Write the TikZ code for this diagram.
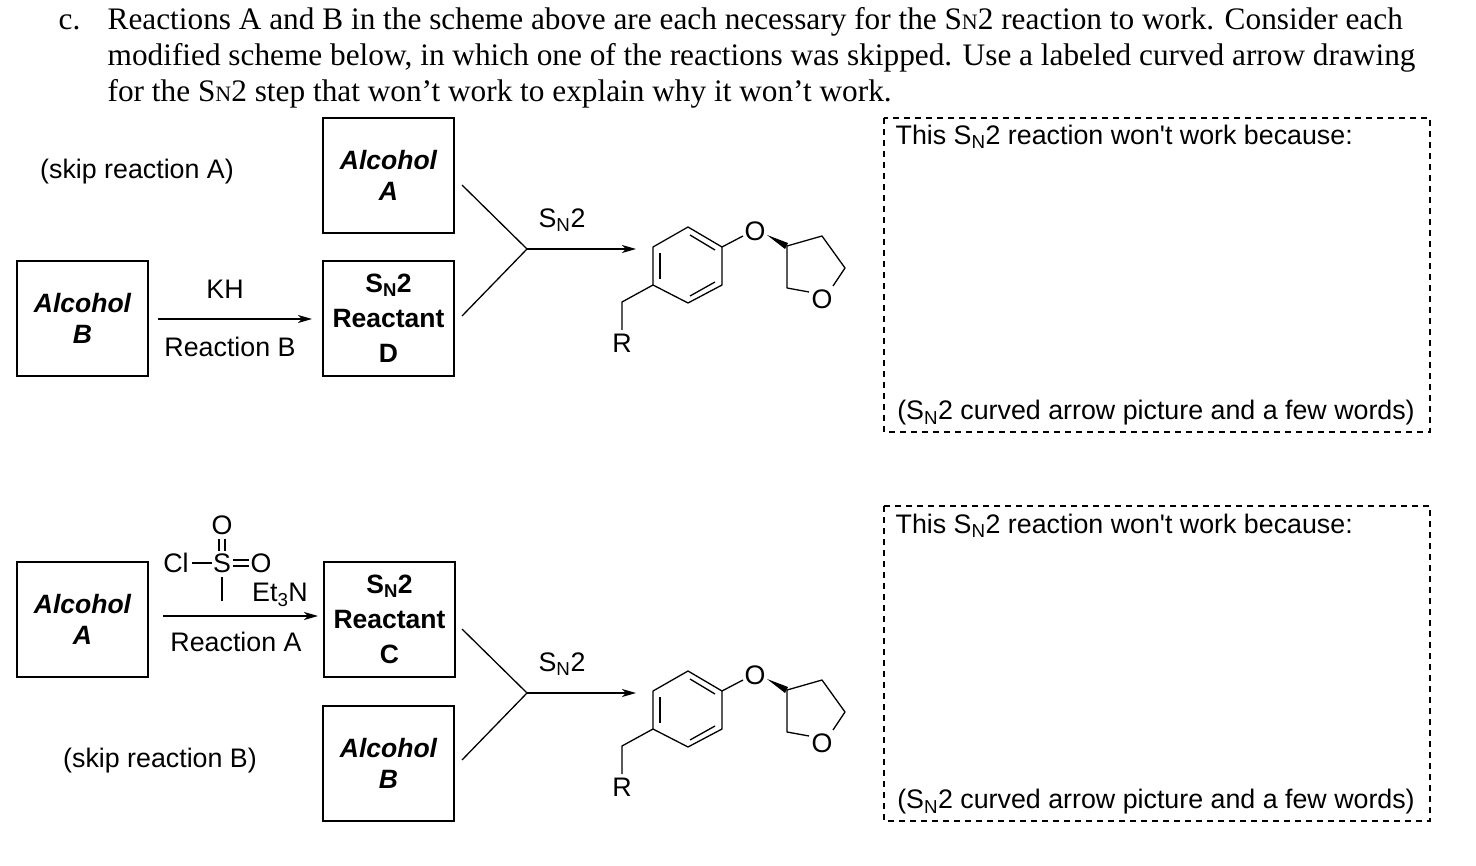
\documentclass[tikz,border=0pt]{standalone}
\usepackage{fontspec}
\usetikzlibrary{arrows.meta}
\setmainfont{Liberation Serif}
\setsansfont{Liberation Sans}
\newfontfamily\arial{Liberation Sans}
\begin{document}
\begin{tikzpicture}[x=1pt,y=-1pt,line width=1.3pt,
  lab/.style={font=\arial\fontsize{26.8}{30}\selectfont,inner sep=0pt,align=center},
  bx/.style={draw,line width=1.3pt,font=\arial\bfseries\itshape\fontsize{26.5}{31}\selectfont,align=center,inner sep=0pt},
  sbx/.style={draw,line width=1.3pt,font=\arial\bfseries\fontsize{26.5}{35}\selectfont,align=center,inner sep=0pt},
  hd/.style={font=\fontsize{31.3}{36}\selectfont,anchor=base west,inner sep=0pt},
  dbox/.style={draw,dashed,line width=1.2pt,dash pattern=on 6pt off 5pt},
  arr/.style={-{Stealth[length=14pt,width=8pt,inset=4pt]},line width=1.3pt},
  bond/.style={line width=1.3pt}]
\useasboundingbox (0,0) rectangle (1476,866);
\newcommand{\snh}{S{\fontsize{22}{22}\selectfont N}2}
\newcommand{\sns}{S\textsubscript{N}2}
% header
\node[hd] (c) at (58,30) {c.};
\node[hd] (h1) at (107,30) {Reactions A and B in the scheme above are each necessary for the \snh{} reaction to work. Consider each};
\node[hd] (h2) at (107,66) {modified scheme below, in which one of the reactions was skipped. Use a labeled curved arrow drawing};
\node[hd] (h3) at (107,102) {for the \snh{} step that won’t work to explain why it won’t work.};

\newcommand{\molecule}[1]{%
\begin{scope}[yshift=#1]
\coordinate (r1) at (688,227); \coordinate (r2) at (722,247); \coordinate (r3) at (722,285);
\coordinate (r4) at (688,303); \coordinate (r5) at (653,285); \coordinate (r6) at (653,247);
\draw[bond,line join=round] (r1)--(r2)--(r3)--(r4)--(r5)--(r6)--cycle;
\draw[bond] (660,253)--(660,279);
\draw[bond] (690,235)--(715,250);
\draw[bond] (715,282)--(690,296);
\node[lab,inner sep=1pt] (o1) at (755,231) {O};
\draw[bond] (r2)--(743,236);
\fill (767,235) -- (788,243) -- (785,249) -- cycle;
\draw[bond,line join=round] (787,246)--(822,236)--(845,268)--(833,286);
\node[lab,inner sep=1pt] (o2) at (822,299) {O};
\draw[bond,line join=round] (809,292)--(787,288)--(787,246);
\draw[bond] (r5)--(622,302)--(622,330);
\node[lab] (R) at (622,343) {R};
\end{scope}}

% top scheme
\node[lab] (skA) at (137,172) {(skip reaction A)};
\node[bx,minimum width=131,minimum height=115] (aA) at (388.5,175.5) {Alcohol\\A};
\node[sbx,minimum width=131,minimum height=115] (sD) at (388.5,318.5) {\sns\\Reactant\\D};
\node[bx,minimum width=131,minimum height=115] (aB) at (82.5,318.5) {Alcohol\\B};
\draw[arr] (158,319)--(312,319);
\node[lab] (kh) at (225,289) {KH};
\node[lab] (rB) at (230,347) {Reaction B};
\coordinate (y1) at (527,249);
\draw[bond] (462,185)--(y1)--(462,316);
\draw[arr] (y1)--(636,249);
\node[lab] (sn1) at (562,220) {\sns};
\molecule{0}
\draw[dbox] (884,118) rectangle (1430,432);
\node[lab,anchor=west] (t1) at (895,137) {This \sns{} reaction won't work because:};
\node[lab] (t2) at (1156,413) {(\sns{} curved arrow picture and a few words)};

% bottom scheme
\node[bx,minimum width=131,minimum height=115] (aA2) at (82.5,619.5) {Alcohol\\A};
\node[sbx,minimum width=131,minimum height=115] (sC) at (389.5,619.5) {\sns\\Reactant\\C};
\node[bx,minimum width=131,minimum height=115] (aB2) at (388.5,763.5) {Alcohol\\B};
\draw[arr] (163,616)--(318,616);
\node[lab] (rA) at (236,642) {Reaction A};
\node[lab] (et) at (280,595) {Et\textsubscript{3}N};
\node[lab] (cl) at (176,563) {Cl};
\node[lab] (s) at (222,563) {S};
\node[lab] (o3) at (261,563) {O};
\node[lab] (o4) at (222,525) {O};
\draw[bond] (192,563)--(212,563);
\draw[bond] (233,560)--(249,560);
\draw[bond] (233,566)--(249,566);
\draw[bond] (219,539)--(219,551); \draw[bond] (225,539)--(225,551);
\draw[bond] (222,577)--(222,601);
\node[lab] (skB) at (160,761) {(skip reaction B)};
\coordinate (y2) at (527,693);
\draw[bond] (462,629)--(y2)--(462,760);
\draw[arr] (y2)--(636,693);
\node[lab] (sn2) at (562,664) {\sns};
\molecule{-444}
\draw[dbox] (884,506) rectangle (1430,821);
\node[lab,anchor=west] (t3) at (895,526) {This \sns{} reaction won't work because:};
\node[lab] (t4) at (1156,802) {(\sns{} curved arrow picture and a few words)};
\end{tikzpicture}
\end{document}
